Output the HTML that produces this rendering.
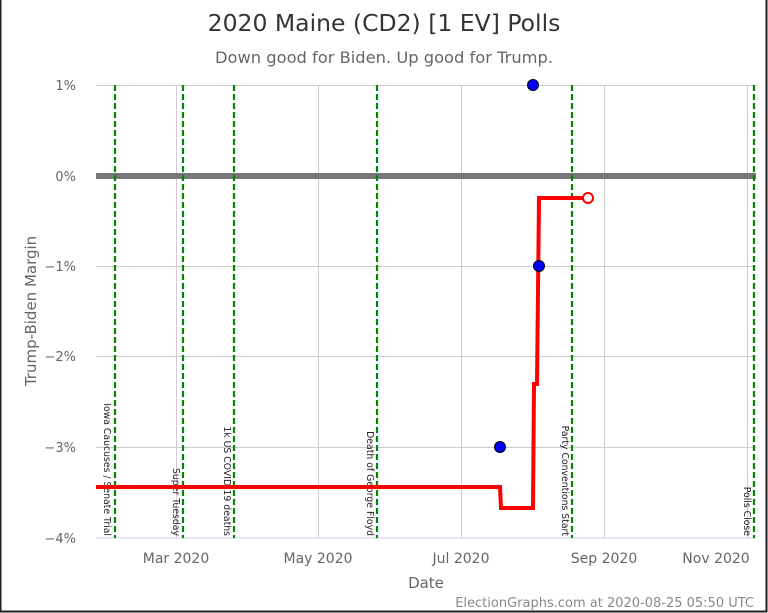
<!DOCTYPE html>
<html><head><style>
html,body{margin:0;padding:0;background:#fff;}
svg{display:block;}
text{font-family:"DejaVu Sans","Liberation Sans",sans-serif;}
</style></head><body>
<svg width="768" height="613" viewBox="0 0 768 613" xmlns="http://www.w3.org/2000/svg">
<rect x="0" y="0" width="768" height="613" fill="#fff"/>
<rect x="0.5" y="-1" width="766" height="612.5" fill="none" stroke="#222" stroke-width="2"/>
<text x="384" y="31" font-size="23.5" text-anchor="middle" fill="#333">2020 Maine (CD2) [1 EV] Polls</text>
<text x="384" y="63" font-size="16.3" text-anchor="middle" fill="#666">Down good for Biden. Up good for Trump.</text>
<g stroke="#ccc" stroke-width="1">
<line x1="96" y1="85.5" x2="756" y2="85.5"/>
<line x1="96" y1="266.5" x2="756" y2="266.5"/>
<line x1="96" y1="356.5" x2="756" y2="356.5"/>
<line x1="96" y1="447.5" x2="756" y2="447.5"/>
<line x1="176.5" y1="85" x2="176.5" y2="538"/>
<line x1="318.5" y1="85" x2="318.5" y2="538"/>
<line x1="461.5" y1="85" x2="461.5" y2="538"/>
<line x1="604.5" y1="85" x2="604.5" y2="538"/>
<line x1="747.5" y1="85" x2="747.5" y2="538"/>
</g>
<line x1="96" y1="538" x2="756" y2="538" stroke="#ccd6eb" stroke-width="1"/>
<line x1="96" y1="176" x2="756" y2="176" stroke="#777" stroke-width="6"/>
<g stroke="#080" stroke-width="2.2" stroke-dasharray="6,3">
<line x1="115" y1="85" x2="115" y2="538"/>
<line x1="183" y1="85" x2="183" y2="538"/>
<line x1="234" y1="85" x2="234" y2="538"/>
<line x1="377" y1="85" x2="377" y2="538"/>
<line x1="572" y1="85" x2="572" y2="538"/>
<line x1="754" y1="85" x2="754" y2="538"/>
</g>
<g font-size="9.3" fill="#222" text-anchor="end">
<text transform="translate(104,536) rotate(90)">Iowa Caucuses / Senate Trial</text>
<text transform="translate(173,536) rotate(90)">Super Tuesday</text>
<text transform="translate(224,536) rotate(90)">1k US COVID-19 deaths</text>
<text transform="translate(367,536) rotate(90)">Death of George Floyd</text>
<text transform="translate(562,536) rotate(90)">Party Conventions Start</text>
<text transform="translate(744,536) rotate(90)">Polls Close</text>
</g>
<polyline points="96,487 500,487 501,508 533,508 534,384 537,384 539,198 588,198" fill="none" stroke="#f00" stroke-width="4"/>
<circle cx="588" cy="198" r="5" fill="#fff" stroke="#f00" stroke-width="2"/>
<g fill="#00f" stroke="#000" stroke-width="1">
<circle cx="500" cy="447" r="5.5"/>
<circle cx="533" cy="85" r="5.5"/>
<circle cx="539" cy="266" r="5.5"/>
</g>
<g font-size="13" fill="#666" text-anchor="end">
<text x="76" y="90">1%</text>
<text x="76" y="181">0%</text>
<text x="76" y="271">−1%</text>
<text x="76" y="361">−2%</text>
<text x="76" y="452">−3%</text>
<text x="76" y="543">−4%</text>
</g>
<g font-size="14" fill="#666" text-anchor="middle">
<text x="176" y="563">Mar 2020</text>
<text x="318" y="563">May 2020</text>
<text x="461" y="563">Jul 2020</text>
<text x="604" y="563">Sep 2020</text>
<text x="716" y="563">Nov 2020</text>
</g>
<text x="426" y="588" font-size="15" fill="#666" text-anchor="middle">Date</text>
<text transform="translate(36,311) rotate(-90)" font-size="15" fill="#666" text-anchor="middle">Trump-Biden Margin</text>
<text x="754" y="607" font-size="13" fill="#888" text-anchor="end">ElectionGraphs.com at 2020-08-25 05:50 UTC</text>
</svg>
</body></html>
